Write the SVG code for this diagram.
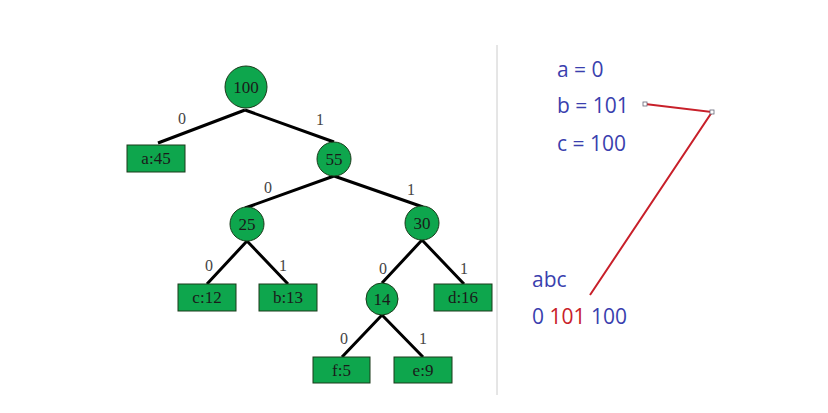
<svg xmlns="http://www.w3.org/2000/svg" width="828" height="413" viewBox="0 0 828 413">
<style>
.n{fill:#0ea64d;stroke:#1a3a1a;stroke-width:1}
.t{font-family:"Liberation Serif",serif;font-size:17px;fill:#1a1a1a;text-anchor:middle;dominant-baseline:central}
.l{font-family:"Liberation Serif",serif;font-size:16px;fill:#444;text-anchor:middle;dominant-baseline:central}
.e{stroke:#000;stroke-width:3;fill:none}
.b{font-family:"Open Sans","Liberation Sans",sans-serif;font-size:21px;fill:#3a3fae}
</style>
<rect width="828" height="413" fill="#fff"/>
<g id="connectors">
<path class="e" d="M245 110L158 143M245 110L334 142M334 176L245 208M334 176L423 207M247 241L207 284M247 241L288 284M422 240L382 283M422 240L464 284M382 315L342 357M382 315L423 357"/>
</g>
<g id="edge-labels">
<text class="l" x="182" y="118">0</text><text class="l" x="320" y="119">1</text>
<text class="l" x="268" y="187">0</text><text class="l" x="411" y="189">1</text>
<text class="l" x="209" y="265">0</text><text class="l" x="283" y="265">1</text>
<text class="l" x="383" y="268">0</text><text class="l" x="464" y="268">1</text>
<text class="l" x="344" y="338">0</text><text class="l" x="423" y="338">1</text>
</g>
<g id="n100"><circle class="n" cx="246" cy="87" r="21"/><text class="t" x="246" y="87">100</text></g>
<g id="a45"><rect class="n" x="127" y="145" width="58" height="27"/><text class="t" x="156" y="158.5">a:45</text></g>
<g id="n55"><circle class="n" cx="334" cy="159" r="17"/><text class="t" x="334" y="159">55</text></g>
<g id="n25"><circle class="n" cx="247" cy="224" r="17"/><text class="t" x="247" y="224">25</text></g>
<g id="n30"><circle class="n" cx="422" cy="223" r="17"/><text class="t" x="422" y="223">30</text></g>
<g id="c12"><rect class="n" x="178" y="284" width="58" height="27"/><text class="t" x="207" y="297.5">c:12</text></g>
<g id="b13"><rect class="n" x="259" y="284" width="58" height="27"/><text class="t" x="288" y="297.5">b:13</text></g>
<g id="n14"><circle class="n" cx="382" cy="299" r="16"/><text class="t" x="382" y="299">14</text></g>
<g id="d16"><rect class="n" x="434" y="284" width="58" height="27"/><text class="t" x="463" y="297.5">d:16</text></g>
<g id="f5"><rect class="n" x="313" y="357" width="57" height="26"/><text class="t" x="341.5" y="370">f:5</text></g>
<g id="e9"><rect class="n" x="394" y="357" width="58" height="26"/><text class="t" x="423" y="370">e:9</text></g>
<line x1="497" y1="45" x2="497" y2="395" stroke="#ccc" stroke-width="1"/>
<g id="codes">
<text class="b" x="557" y="77">a = 0</text>
<text class="b" x="557" y="113">b = 101</text>
<text class="b" x="557" y="151">c = 100</text>
<text class="b" x="532" y="287">abc</text>
<text class="b" x="532" y="324">0 <tspan fill="#c8202a">101</tspan> 100</text>
</g>
<g id="pointer">
<polyline points="645,104 712,112 590,295" fill="none" stroke="#c8202a" stroke-width="2"/>
<rect x="643" y="102" width="4" height="4" fill="#fff" stroke="#667" stroke-width="0.8"/>
<rect x="710" y="110" width="4" height="4" fill="#fff" stroke="#667" stroke-width="0.8"/>
</g>
</svg>
